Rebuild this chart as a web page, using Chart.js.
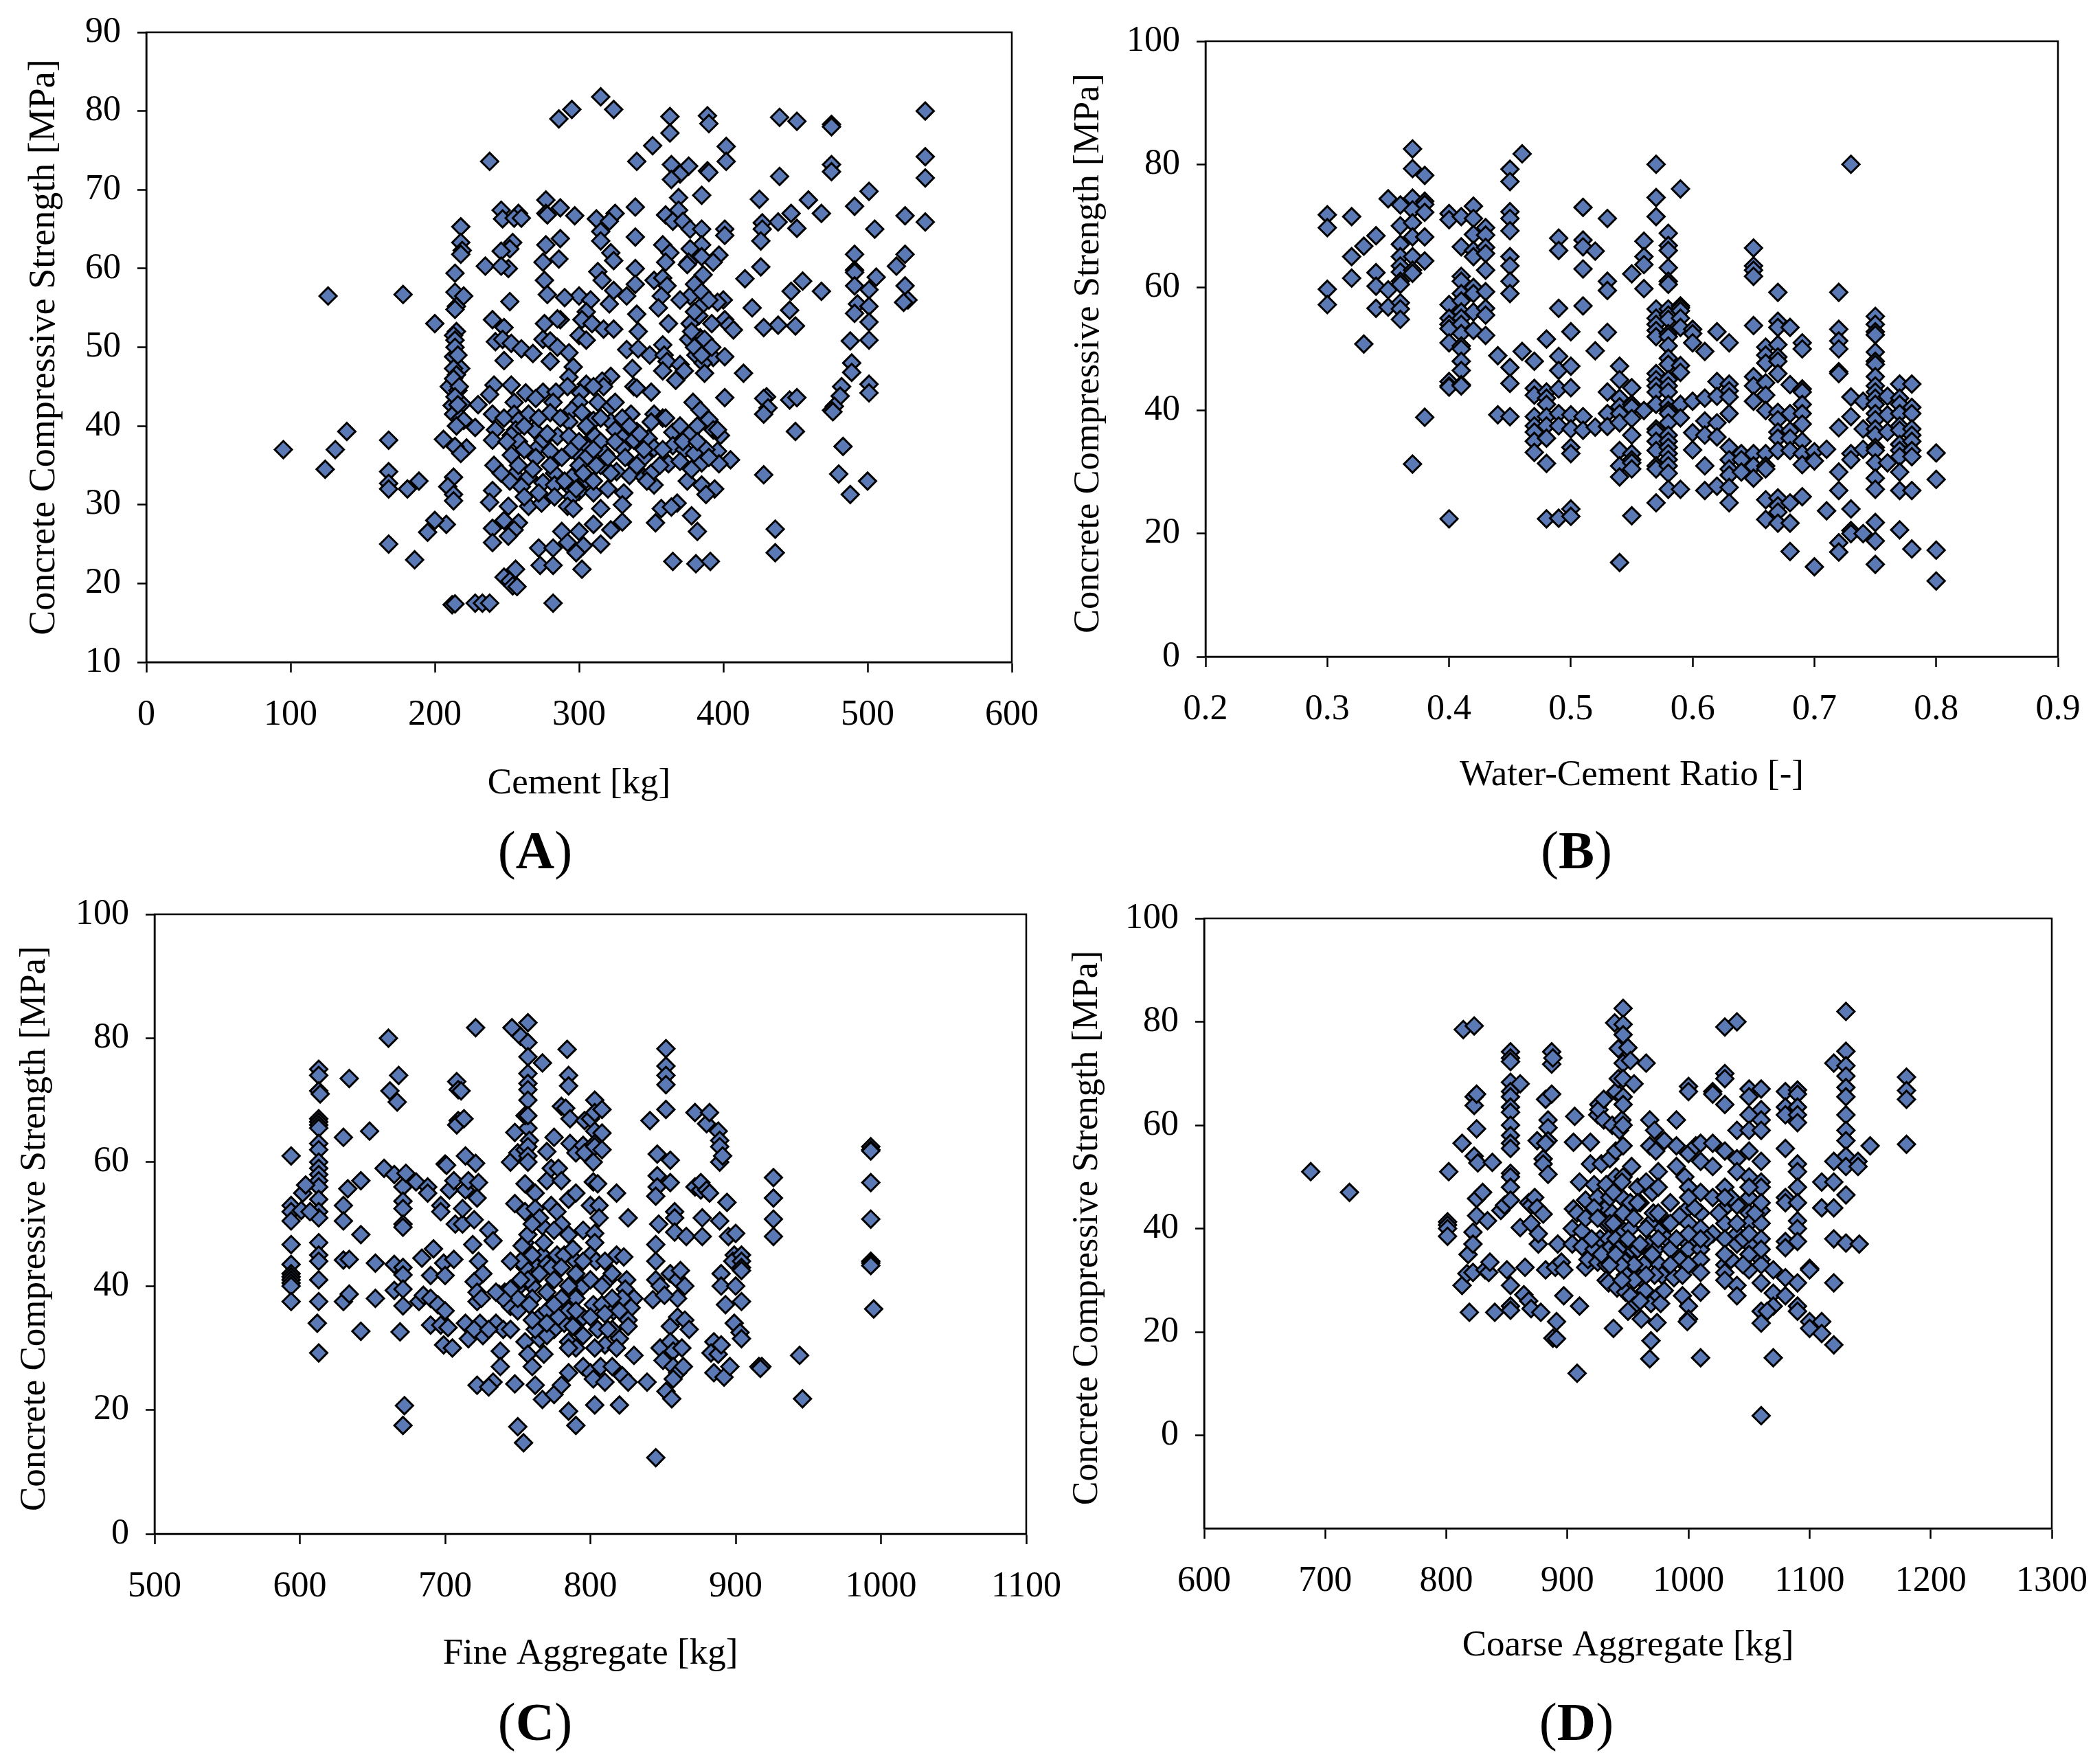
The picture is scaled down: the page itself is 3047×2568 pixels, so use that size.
<!DOCTYPE html>
<html>
<head>
<meta charset="utf-8">
<title>Concrete Compressive Strength</title>
<script src="https://cdn.jsdelivr.net/npm/chart.js@4"></script>
<style>
    html, body { margin: 0; padding: 0; background: #fff; }
    #page { position: relative; width: 3047px; height: 2568px; overflow: hidden; }
    canvas { position: absolute; }
    .tag { position: absolute; transform: translate(-50%, -50%); font: 78px "Liberation Serif", serif; color: #000; white-space: nowrap; }
    .tag b { font-weight: bold; }
</style>
</head>
<body>
<div id="page"></div>
<script>
// tick labels
const cementTicks = [0, 100, 200, 300, 400, 500, 600];
const ratioTicks = [0.2, 0.3, 0.4, 0.5, 0.6, 0.7, 0.8, 0.9];
const fineTicks = [500, 600, 700, 800, 900, 1000, 1100];
const coarseTicks = [600, 700, 800, 900, 1000, 1100, 1200, 1300];
const strengthTicksA = [10, 20, 30, 40, 50, 60, 70, 80, 90];
const strengthTicks = [0, 20, 40, 60, 80, 100];

// (A) [cement kg, strength MPa]
const cementPoints = [
[315,81.8],[295,80.2],[286,79],[324,80.2],[363,79.3],[389,79.4],[390,78.4],[439,79.2],[451,78.7],[475,78.3],[475,78],[540,80],
[363,77.2],[351,75.6],[402,75.5],[540,74.2],[238,73.6],[340,73.6],[402,73.6],[364,73.2],[376,73],[475,73.2],[475,72.3],[389,72.4],[390,72.2],[370,72],[364,71.3],[439,71.7],[540,71.5],
[501,69.8],[425,68.8],[459,68.7],[385,69.3],[369,69],[277,68.7],[339,67.8],[287,67.7],[246,67.4],[258,67],[325,67],[277,67],[369,67.4],[278,66.8],[297,66.7],[247,66.3],[255,66.4],[260,66.4],[312,66.3],[321,66],[360,66.8],[365,66],[372,66],[491,67.9],[447,67],[468,67],[526,66.7],[438,65.9],[540,65.9],[427,65.8],[451,65.1],[505,65],[401,65],[218,65.3],[377,65],[385,65],[427,65],[315,64.7],[401,64.2],[339,64],[287,63.8],[426,63.5],[218,63.3],[254,63.3],[252,62.5],[277,63],[315,63.5],[358,63],[385,63],[377,62.5],[322,62],[219,62.3],[218,61.8],[246,62.2],[491,61.8],[526,61.8],[363,62],[397,61.7],[385,61.5],[324,61],[376,60.8],[286,61.2],[275,60.8],[360,60.8],[393,60.8],[520,60.3],[235,60.3],[251,60],[246,60.3],[339,60],[426,60.2],[491,59.8],[375,60.5],[214,59.4],[313,59.6],[491,59.5],[506,58.9],[386,59.2],[276,58.5],[352,58.5],[358,58.8],[415,58.7],[455,58.4],[316,58.5],[339,58],[361,57.8],[491,57.8],[526,57.8],[501,57.3],[214,57],[324,57.2],[447,57.1],[468,57.1],[278,56.7],[300,56.5],[290,56.3],[126,56.5],[178,56.7],[220,56.5],[333,56.5],[357,56.5],[377,56.5],[400,56],[308,56],[321,55.5],[528,56],[525,55.7],[370,56],[386,55.5],[396,55.7],[420,55],[493,55.5],[252,55.8],[215,55.2],[214,54.8],[355,55],[501,55.2],[446,54.7],[491,54.3],[305,54.5],[340,54.2],[240,53.5],[287,53.5],[285,53.6],[302,53.5],[383,54],[401,53.5],[501,53.2],[200,53],[276,53],[362,53],[309,53],[377,53],[404,52.8],[248,52.5],[438,52.8],[428,52.5],[450,52.7],[317,52.3],[324,52.3],[215,52],[341,52],[407,52.2],[213,51.5],[300,51.5],[384,51.2],[214,50.9],[275,51],[305,50.9],[242,50.7],[247,51],[280,50.8],[376,51],[488,50.8],[501,50.9],[253,50.5],[285,50],[358,50.3],[390,50],[260,49.8],[333,49.7],[341,49.8],[268,49.2],[293,49.3],[349,49],[359,49],[381,49],[393,48.7],[401,48.8],[213,48.8],[248,48.3],[280,48.2],[361,48.2],[386,48],[489,48],[370,47.8],[296,47.5],[218,47.3],[213,47.3],[337,47.3],[358,47],[373,47],[387,46.7],[414,46.7],[489,46.8],[215,46.5],[322,46.3],[367,45.8],[293,46.2],[316,45.7],[305,45.3],[501,45.3],[241,45.2],[253,45.2],[292,45],[317,45],[338,45],[482,45],[210,45],[216,44.5],[340,44.8],[275,44.3],[501,44.2],[350,44.3],[481,43.8],[284,44.3],[238,44],[263,44.2],[301,44.2],[430,43.7],[446,43.3],[451,43.6],[401,43.6],[428,43.5],[270,43.5],[282,43],[300,43],[313,43],[379,43],[219,42.8],[230,42.7],[255,43],[212,42.6],[322,42.5],[431,42.3],[240,41.5],[477,42.5],[475,42],[476,41.8],[428,41.5],[384,42],[295,42],[302,41.7],[255,41.5],[265,41.5],[336,41.5],[280,41.7],[213,41.5],[218,41],[352,41.5],[358,41],[258,40.7],[293,40.5],[310,40.7],[220,40.7],[322,40.5],[350,40.5],[390,40.8],[228,39.8],[215,40],[242,39.5],[256,39.5],[269,39.5],[139,39.3],[306,39.7],[325,39.5],[340,39.3],[365,39.2],[393,39.5],[450,39.3],[377,39],[253,38.8],[285,38.7],[293,38.7],[311,38.7],[330,38.5],[348,38.4],[398,38.8],[206,38.3],[168,38.2],[240,38.2],[258,38],[275,38.2],[315,38],[338,38.2],[304,37.5],[365,37.5],[483,37.4],[385,37.5],[222,37.2],[214,37.4],[270,37],[131,37],[95,37],[330,37.2],[352,37.2],[280,36.8],[318,36.5],[300,36.3],[373,37],[396,36.8],[388,37],[380,36.5],[218,36.5],[253,36.3],[305,36],[405,35.7],[270,36],[385,35.3],[397,35.2],[362,35.2],[315,35],[241,35],[168,34.2],[124,34.5],[326,34.2],[283,34],[480,33.9],[428,33.8],[255,33.8],[295,33.5],[335,33.7],[345,33.5],[213,33.5],[265,33.5],[305,33.2],[500,33],[375,33],[275,32.8],[189,33],[168,32.7],[252,33],[283,32.5],[293,32.3],[352,32.5],[385,32.5],[168,32],[181,32],[209,32.3],[260,32.3],[300,31.7],[320,32],[394,32],[213,31.3],[283,31],[295,31],[310,31.5],[331,31.5],[388,31.3],[488,31.3],[240,31.8],[213,30.5],[238,30.3],[265,29.8],[274,30.2],[330,30],[368,30.2],[292,29.8],[296,29.5],[357,29.5],[364,29.7],[251,29.8],[315,29.5],[378,28.6],[248,28],[258,27.7],[353,27.7],[330,27.8],[240,27],[310,27.5],[195,26.5],[208,27.5],[200,28],[322,26.8],[382,26.6],[436,26.9],[288,26.6],[255,26.8],[300,26.6],[251,26],[240,25.2],[168,25],[272,24.5],[282,24.5],[292,25.2],[303,24.8],[315,25],[298,23.9],[436,23.9],[186,23],[365,22.8],[381,22.5],[391,22.8],[273,22.3],[282,22.3],[302,21.8],[256,21.8],[248,20.8],[252,20.3],[254,19.7],[257,19.6],[212,17.3],[214,17.4],[228,17.5],[233,17.5],[238,17.5],[282,17.5],
[300,35],[310,33],[320,36],[325,38],[310,37],[305,40],[295,37],[315,41],[330,41],[345,36],[340,35],[335,40],[325,43],[310,45],[300,38],[290,33],[298,32],[303,34],[312,35],[322,34],[332,36],[342,39],[350,34],[347,33],[345,37],
[248,41],[262,40],[272,41],[287,41],[250,38],[262,37],[278,39],[288,36],[258,35],[268,34.5],[246,34],[280,35],[262,31],[272,31.5],[360,41],[370,40],[382,40],[396,39.5],[372,38],[382,38],[358,37],[390,36],[378,34.5],[370,35.5],[356,35],[380,58],[385,57],[390,56],[380,54.5],[392,53],[378,52],[387,51],[380,50],[392,50],[385,49],[214,50],[216,49],[213,46],[217,45],[214,43.7],[216,42.7]
];

// (B) water-cement ratio columns: [ratio, strengths MPa]
const ratioColumns = [
[0.30,[71.8,69.7,59.7,57.2]],
[0.32,[71.5,65,61.5]],
[0.33,[66.7,50.8]],
[0.34,[68.4,62.4,60.2,56.6]],
[0.35,[74.4,59.6,56.8]],
[0.36,[73.4,70,67,65,63.5,62.5,61,60.5,57.5,56.5,54.8]],
[0.37,[82.5,79.3,74.5,72.6,70.5,68.2,65,62.8,62.3,31.3]],
[0.38,[78.2,74,73.5,72.2,68.2,64.3,38.9]],
[0.40,[72,71,57.2,55,54,53.3,51,44.7,44,43.8,22.4]],
[0.41,[71.5,66.6,61.8,61,59,57.8,56,55,54,52.5,50.5,50,48,46.5,44.2,44]],
[0.42,[73.2,71.2,68.6,66,65,60,59,56,53]],
[0.43,[69.7,68.5,66.5,65.5,62.8,59.3,56.6,55.5,52.2]],
[0.44,[48.9,39.3]],
[0.45,[79.2,77.2,72.3,71.2,69.2,65,63.5,61,59,47,44.4,39]],
[0.46,[81.7,49.6]],
[0.47,[48,43.6,42.5,39,37.5,36.5,35,33.2]],
[0.48,[51.6,43,42,41,39,37.5,35.5,31.4,22.4]],
[0.49,[68,66,56.6,48.8,46.5,43.5,39.5,37.5,22.5]],
[0.50,[52.8,47.2,43.7,39.3,37,34,33,24,22.8]],
[0.51,[73,67.7,66.6,63,57,39,36.8]],
[0.52,[65.9,49.7,37.3]],
[0.53,[71.2,61,59.5,52.7,43,39.5,37.4]],
[0.54,[47.2,45,42,40.6,39.5,38,33.5,31,29.2,15.3]],
[0.55,[62.2,43.7,41,40.5,38.7,36,33,32,31.5,30.5,22.9]],
[0.56,[67.5,65,63.7,59.8,40]],
[0.57,[80,74.6,71.5,56.5,55,54,53,52,46,45,44,43,41,37,36.5,35,33.5,31,30.5,25]],
[0.58,[68.8,66.8,66,63.2,61,60.5,56.5,55.5,54.8,52.5,52,50.5,48.5,47.5,45,44,43,41,40,39.5,38,36,35,34,33,32,31,29.8,27.2]],
[0.59,[76,57,56.7,56.2,55,53.5,47.3,46.2,41,38.8,27.2]],
[0.60,[53.2,52.5,51,41.5,36.4,33.6]],
[0.61,[49.6,42,38.3,36,31,27]],
[0.62,[52.8,44.7,42.3,38,35.7,27.7]],
[0.63,[51,44.3,43.2,42.2,39.5,34,32,30.5,29.5,27.5,25]],
[0.64,[33,32,30]],
[0.65,[66.4,63.5,62.8,61.8,53.8,45.5,44,41.5,33,31,29]],
[0.66,[50.3,49,47.7,44.5,42.5,40,33,31,30.5,25.5,22.3]],
[0.67,[59.2,54.5,53.5,50.7,48.7,48,46,39.7,38.5,36.5,35.5,33.5,25.8,24.5,23.5,21.7]],
[0.68,[53.5,44.2,39.5,36.7,35.5,33.5,25,21.7,17.1]],
[0.69,[51,50,43.5,43,41,39.5,37.8,35,33,31.2,26]],
[0.70,[33.3,31.8,14.6]],
[0.71,[33.7,23.7]],
[0.72,[59.2,53.2,51.3,50,46.3,46,37.2,30,27,18.5,17]],
[0.73,[80,42.2,39,33,32,24,20.5,20]],
[0.74,[41.5,37,33.7,20]],
[0.75,[55.3,54,52.8,52.3,49.5,48,47.5,45.5,44,43,42,41,39.5,38.5,37,36,34,33.5,31.5,29,27.2,21.8,18.8,15]],
[0.76,[42.3,39.3,36.5,31.5]],
[0.77,[44.3,42,41,39.5,37.5,36.8,34.5,33.5,32.5,30,27,20.6]],
[0.78,[44.3,40.5,39.5,37,36,35,33.5,32.5,27,17.5]],
[0.80,[33.1,28.8,17.3,12.3]]
];

// (C) [fine aggregate kg, strength MPa]
const finePoints = [
[594,61],[594,53],[594,52],[594,50.5],[594,46.7],[594,43.5],[594,42],[594,41.5],[594,41],[594,40.5],[594,40],[594,37.5],
[613,75],[613,74],[613,71.5],[614,71],[613,67],[613,66.5],[613,66],[613,65.5],[613,63],[613,62],[613,60],[613,59],[613,58],[613,57],[613,56],[613,54],[613,52],[613,51],[613,47],[613,45],[613,44],[613,41],[613,37.5],[612,34],[613,29.2],
[601,52.2],[602,55],[604,56.3],[607,52],
[630,64],[630,53],[630,50.5],[630,44.2],[630,37.5],[634,73.5],[633,55.7],[634,44.3],[634,38.7],[642,57],[642,48.3],[642,32.7],[648,65],[652,38],[652,43.7],[658,59],[661,80],[662,71.5],[665,58],[665,43.5],[667,69.7],[668,74],[665,39.3],[669,32.6],[671,56],[671,53.7],[671,52.5],[671,50],[671,49.5],[671,43],[672,20.7],[671,17.5],[671,41.8],[671,39.5],[671,36.8],[673,58.2],[680,56.8],[682,37.5],[684,44.5],[685,38.5],[688,56],[688,55],[690,41.7],[690,38],[692,46],[690,33.7],[695,37],[697,53],[697,52],[697,33.7],[699,43.7],[700,41.7],[700,59.7],[701,59.5],[700,36],[702,33.3],[699,30.5],[703,55.5],[706,57],[706,44.3],[705,30],[707,50],[708,73],[709,71.7],[709,66.7],[708,66],[711,71.5],[712,50],[712,52.5],[713,67],[714,61],[714,55.5],[714,34],[716,57],[716,31.5],[720,50.7],[719,46.7],[721,81.7],[721,59.8],[723,56.7],[722,54.2],[723,44],[724,34],[726,42],[726,32],[722,37.5],[720,40.7],[722,39],[722,24],[730,49],[733,47.3],[733,24.5],[730,23.7],[735,34],[737,38.7],[738,29.5],[738,27],[740,33],[741,39],[745,60],[748,64.8],[747,37.5],[745,36.7],[750,39.7],[750,61.5],[748,53.3],[746,81.7],[750,17.3],[748,24.2],[752,80.3],[754,14.7],[755,62],[755,52],[757,65.5],[755,47],[753,46.5],[755,67.5],
[757,82.5],[757,79.3],[757,77],[757,74.3],[757,72.7],[757,71.7],[757,70],[757,67.5],[758,63.5],[757,62.5],[757,61],[757,60],[755,56.5],[762,55],[762,52.5],[757,48.3],[767,76],[767,49.7],[770,61.7],[770,57],[767,45],[763,43],[770,43.5],[773,43],[777,45],[773,59],[773,53],[775,64],[778,59],[780,57],[777,52],[780,50],[782,45],[780,69],[783,68.7],[784,78.2],[785,74],[785,72.3],[786,67],[786,63],[790,61.5],[785,54],[790,55],[785,48.3],[795,49],[790,44],[795,62.7],[796,66.7],[796,61.5],[800,67],[800,53],[803,70],[803,68],[803,65],[803,63],[803,62.5],[802,60],[802,56.8],[805,56.5],[808,68.5],[808,64.7],[808,62],[806,53],[806,51],[803,48.5],[803,47],[800,45],[804,44],[818,55],[826,51],[818,45],[823,44.7],[810,44],[812,41],[808,40],[815,42],[825,41],[824,39.5],[830,38],[822,38],[816,36],[828,36.5],[826,34.5],[826,33.5],[815,33],[820,31.5],[805,33],[810,30.5],[818,30],[803,30],[795,35],[802,37],[795,40],[785,40],[785,36],[790,38],[780,38],[775,41],[770,39],[760,40],[755,43],[760,38],[750,36],[765,35],[775,33],[782,34],[785,31],[790,30],[785,30],[765,31.5],[770,32],[762,33],[755,31],[757,29],[760,27],[768,29],[762,24],[767,21.7],[775,22.5],[780,24],[785,26],[785,19.8],[790,17.5],[795,27],[800,26],[802,25],[803,20.8],[807,27],[810,24.5],[815,27],[820,20.8],[822,25.5],[826,24.5],[830,28.8],[839,24.5],[845,12.3],[841,66.7],[846,61.3],[846,57.8],[846,56],[845,54.5],[847,50],[845,46.7],[845,44],[845,41],[843,37.8],[848,40],[848,30],[850,28],[852,23],[852,78.3],[852,75.5],[852,74],[852,72.5],[852,68.5],[855,60.3],[855,56.7],[858,52],[858,51],[858,48.7],[866,48],[855,42],[860,41],[862,42.5],[865,40],[860,38],[851,38.5],[855,33.5],[860,35],[865,34.5],[868,33],[855,31],[857,29.5],[863,30],[857,27],[860,26],[864,27],[857,25],[856,21.8],[872,68],[872,56],[876,55.5],[876,56.7],[880,55.5],[882,55],[877,51],[877,48],[880,66.2],[882,68],[888,65],[889,63.5],[889,62.5],[889,60],[891,61],[889,50.5],[894,53.5],[895,48],[890,42],[890,40],[893,37],[885,31],[883,29.2],[888,29],[890,30.5],[885,26],[892,25.3],[896,27],[900,48.5],[899,45],[898,44],[904,45],[904,44],[904,43],[904,42.5],[900,40],[904,37.5],[899,34],[903,32.5],[904,31.5],[916,27],[918,27],[917,26.7],[926,57.5],[926,54.2],[926,50.8],[926,48],[944,28.8],[946,21.8],[993,62.5],[993,62],[993,61.8],[993,56.7],[993,50.8],[993,44],[993,43.7],[993,43.3],[995,36.3],
[720,33],[730,33],[745,33],[750,38],[758,37],[770,36],[778,35],[788,33.5],[795,32],[800,35],[808,37],[812,33],[815,38],[820,36],[810,35.5],[780,43],[790,42],[800,41],[775,37],[765,42],[757,41],[752,41],[745,39.5],[740,38],[735,39],[725,38],[770,34],[760,34.5],[790,36],
[760,45],[752,44],[745,44],[788,46],[775,49],[765,51],[760,50],[795,44],[768,47]
];

// (D) [coarse aggregate kg, strength MPa]
const coarsePoints = [
[688,51],[720,47],[802,51],[801,41.3],[801,40.7],[801,40],[801,38.5],[813,56.5],[814,78.5],[823,79.2],[813,29],[817,31.3],[818,35],[819,23.8],[822,39.3],[822,37],[822,31.5],[823,54],[823,65.5],[823,63.8],[825,66],[825,59.3],[826,52.7],[825,45.8],[825,42.5],[830,47],[832,32],[834,41.5],[835,31.5],[836,33.5],[838,52.8],[840,23.8],[845,43.5],[848,44.5],[850,32],
[853,74.2],[853,73],[853,72.3],[853,68.3],[853,66.5],[853,65.5],[853,63.5],[853,62.5],[853,60],[853,58],[853,56.5],[853,55.5],[853,50.7],[853,50],[853,48],[853,45.5],[853,29],[853,25],[853,24.2],
[861,68],[861,40.2],[865,32.5],[864,27.2],[868,26],[868,45],[870,41],[870,44.5],[870,24.5],[873,46],[875,57],[875,44],[876,37],[876,39],[880,42.8],[878,23.8],[880,53.5],[880,52.5],[882,65],[884,61],[884,59.5],[884,57],[882,56.5],[884,50.5],[882,32],[887,74.2],[887,71.8],[887,66],[888,73],[890,32.5],[888,18.8],[891,18.7],[891,22],[892,37],[895,33.5],[897,32],[897,27],[906,61.7],[905,56.7],[905,43.8],[904,40],[904,37],[908,43],[908,12],[910,25],[910,49],[912,39.5],[912,36.5],[915,42],[915,45.5],[915,32.5],[917,34],[919,56.7],[919,52.5],[922,48.5],[922,36],[925,46],[925,33.5],[925,62],[926,64],[926,63],[927,38],[928,52.5],[930,65],[930,61],[932,48.5],[932,44],[932,41],[932,33],[932,30],[934,38],[934,36],[934,29.5],[935,53.5],[935,46],[937,60],[937,43],[938,20.7],[939,79.8],[940,66.5],[940,55],[940,50],[940,38],[941,28.5],[942,74.8],[942,69],[943,59],[945,61],[946,82.6],[946,79.5],[946,77.5],[946,72],[946,69],[946,65.5],[946,64],[946,60],[946,56],[946,50],[945,46],[946,43],[947,33.7],[947,39.5],[948,27.7],[950,75],[952,72.5],[952,27],[952,45],[952,40],[953,52],[953,36],[955,68],[955,25],[958,48],[958,36],[960,45],[960,30.5],[961,22.5],[963,33],[965,72],[965,49],[968,61],[968,56],[968,41],[968,37],[968,27],[969,25.5],[969,18.3],[968,14.8],[970,47],[971,43],[972,59],[973,36],[973,55],[975,51],[975,48],[975,27],[974,21.8],[976,33],[977,25.5],[978,40],[978,31],[980,57],[982,38],[983,41],[985,45],[985,36],[988,30.5],[990,61],[990,52],[990,56],[993,42.5],[993,34],[995,27],[995,31],[997,50],[1000,67.5],[1000,66.5],[1000,54.5],[1000,48],[1000,44],[1000,41],[1000,37],[1000,36],[1000,33],[1000,25],[1000,22.5],[999,22],[1006,56],[1006,39],[1010,56.5],[1010,53],[1010,47],[1010,43],[1010,40],[1010,36],[1010,34],[1010,31.5],[1010,27.7],[1010,15],[1020,66.5],[1020,66],[1020,56.5],[1020,52],[1020,46],[1020,39],[1030,79],[1030,70],[1030,69],[1030,64],[1030,55],[1030,48],[1030,44],[1030,41],[1030,38],[1030,33],[1030,31.5],[1030,30],[1040,80],[1040,59],[1040,53.5],[1040,51],[1040,44.5],[1040,39],[1040,37],[1040,29],[1040,27],[1050,67],[1050,65.5],[1050,62],[1050,59],[1050,55],[1050,50],[1050,46],[1050,43],[1050,41],[1050,37],[1050,35],[1050,32],[1060,67],[1060,63],[1060,61],[1060,59],[1060,53],[1060,49],[1060,48],[1060,43.5],[1060,41],[1060,38],[1060,34],[1060,33],[1060,29.5],[1060,24],[1060,21.7],[1060,3.8],[1070,32],[1070,27.5],[1070,25],[1070,15],[1065,24],[1080,66.5],[1080,63.5],[1080,62],[1080,55.5],[1080,46],[1080,45],[1080,37.5],[1080,36.3],[1080,30.5],[1080,27],[1090,66.8],[1090,66],[1090,63.5],[1090,62],[1090,60.5],[1090,52.5],[1090,51],[1090,48],[1090,45],[1090,41.5],[1090,40],[1090,37.5],[1090,29.5],[1090,25],[1090,24],[1100,32.3],[1100,32],[1100,22],[1100,20.7],[1110,49],[1110,44],[1110,22],[1110,19.7],[1120,72],[1120,53],[1120,49],[1120,44],[1120,38],[1120,29.5],[1120,17.5],[1130,82],[1130,74.3],[1130,71.5],[1130,69.5],[1130,67.3],[1130,65.5],[1130,62],[1130,59],[1130,57],[1130,54],[1130,52],[1130,46.5],[1130,37.2],[1140,53],[1140,52],[1141,37],[1150,56],[1180,69.3],[1180,66.7],[1180,65],[1180,56.3],
[920,38],[935,41],[950,38],[955,42],[965,40],[970,35],[975,38],[985,41],[942,36],[948,31],[955,33],[960,37],[964,28],[972,31],[955,30],[944,33],[938,41],[928,35],[922,44],[958,45],[935,33],[938,47],[945,49],[940,35],[925,42],[1005,44],[1015,38],[1025,43],[1035,46],[1045,38],[1055,43],[1045,33],[1035,34],
[1000,46],[1000,39],[1010,38],[1050,48],[1060,45],[1060,36],[1050,39],[1040,41],[1030,35],[1030,46],[975,43],[965,31],[960,26],[950,24],[945,30],[980,28],[985,33],[990,38]
];

const fontFamily = '"Liberation Serif", serif';
const page = document.getElementById('page');

// draws the top and right sides of the plot frame too
const frameBox = {
    id: 'frameBox',
    afterDraw: function (chart) {
        const area = chart.chartArea;
        chart.ctx.save();
        chart.ctx.strokeStyle = '#000';
        chart.ctx.lineWidth = 2.5;
        chart.ctx.strokeRect(area.left, area.top, area.right - area.left, area.bottom - area.top);
        chart.ctx.restore();
    }
};

function makePanel(panel) {
    const canvas = document.createElement('canvas');
    canvas.width = panel.w;
    canvas.height = panel.h;
    canvas.style.left = panel.x + 'px';
    canvas.style.top = panel.y + 'px';
    page.appendChild(canvas);

    new Chart(canvas.getContext('2d'), {
        type: 'scatter',
        plugins: [frameBox],
        data: {
            datasets: [{
                data: panel.points.map(p => ({ x: p[0], y: p[1] })),
                pointStyle: 'rectRot',
                pointRadius: 12.5,
                pointBackgroundColor: '#5B7AB5',
                pointBorderColor: '#000',
                pointBorderWidth: 3,
            }],
        },
        options: {
            responsive: false,
            animation: false,
            devicePixelRatio: 1,
            layout: { padding: { top: panel.top, right: panel.w - panel.right, bottom: 0, left: 0 } },
            plugins: { legend: { display: false }, tooltip: { enabled: false } },
            scales: {
                x: {
                    type: 'linear',
                    min: panel.xTicks[0],
                    max: panel.xTicks[panel.xTicks.length - 1],
                    afterBuildTicks: axis => { axis.ticks = panel.xTicks.map(v => ({ value: v })); },
                    afterFit: axis => {
                        axis.height = panel.h - panel.bottom;
                        axis.paddingLeft = 0;
                        axis.paddingRight = 0;
                    },
                    grid: { drawOnChartArea: false, tickLength: 15, tickWidth: 2.5, tickColor: '#000' },
                    border: { color: '#000', width: 2.5 },
                    ticks: {
                        autoSkip: false, maxRotation: 0, color: '#000', padding: 31,
                        font: { family: fontFamily, size: 52 },
                        callback: panel.xFormat || (v => String(v)),
                    },
                    title: {
                        display: true, text: panel.xTitle, color: '#000',
                        font: { family: fontFamily, size: 53 },
                        padding: { top: 0, bottom: panel.xTitleGap },
                    },
                },
                y: {
                    type: 'linear',
                    min: panel.yMin,
                    max: panel.yTicks[panel.yTicks.length - 1],
                    afterBuildTicks: axis => { axis.ticks = panel.yTicks.map(v => ({ value: v })); },
                    afterFit: axis => {
                        axis.width = panel.left;
                        axis.paddingTop = 0;
                        axis.paddingBottom = 0;
                    },
                    grid: { drawOnChartArea: false, tickLength: 13, tickWidth: 2.5, tickColor: '#000' },
                    border: { color: '#000', width: 2.5 },
                    ticks: {
                        autoSkip: false, color: '#000', padding: 24,
                        font: { family: fontFamily, size: 52 },
                        callback: v => String(v),
                    },
                    title: {
                        display: true, text: panel.yTitle, color: '#000',
                        font: { family: fontFamily, size: panel.yTitleSize },
                        padding: { top: panel.yTitleGap, bottom: 0 },
                    },
                },
            },
        },
    });

    const tag = document.createElement('div');
    tag.className = 'tag';
    tag.style.left = panel.tagX + 'px';
    tag.style.top = panel.tagY + 'px';
    tag.innerHTML = '(<b>' + panel.tag + '</b>)';
    page.appendChild(tag);
}

const strengthTitle = 'Concrete Compressive Strength [MPa]';

makePanel({
    x: 0, y: 0, w: 1530, h: 1200, left: 213, right: 1473, top: 47, bottom: 964,
    points: cementPoints, xTicks: cementTicks, yTicks: strengthTicksA, yMin: 10,
    xTitle: 'Cement [kg]', xTitleGap: 27, yTitle: strengthTitle, yTitleSize: 54, yTitleGap: 32,
    tag: 'A', tagX: 779, tagY: 1238,
});
makePanel({
    x: 1530, y: 0, w: 1517, h: 1190, left: 225, right: 1466, top: 60, bottom: 956,
    points: ratioColumns.flatMap(c => c[1].map(s => [c[0], s])),
    xTicks: ratioTicks, xFormat: v => v.toFixed(1), yTicks: strengthTicks, yMin: 0,
    xTitle: 'Water-Cement Ratio [-]', xTitleGap: 29, yTitle: strengthTitle + ' ', yTitleSize: 52.5, yTitleGap: 24,
    tag: 'B', tagX: 2295, tagY: 1238,
});
makePanel({
    x: 0, y: 1280, w: 1560, h: 1190, left: 225, right: 1494, top: 51, bottom: 953,
    points: finePoints, xTicks: fineTicks, yTicks: strengthTicks, yMin: 0,
    xTitle: 'Fine Aggregate [kg]', xTitleGap: 30, yTitle: strengthTitle + ' ', yTitleSize: 53, yTitleGap: 19,
    tag: 'C', tagX: 779, tagY: 2507,
});
makePanel({
    x: 1530, y: 1280, w: 1517, h: 1180, left: 223, right: 1457, top: 57, bottom: 945,
    points: coarsePoints, xTicks: coarseTicks, yTicks: strengthTicks, yMin: -18,
    xTitle: 'Coarse Aggregate [kg]', xTitleGap: 32, yTitle: strengthTitle + ' ', yTitleSize: 52, yTitleGap: 22,
    tag: 'D', tagX: 2295, tagY: 2507,
});
</script>
</body>
</html>
